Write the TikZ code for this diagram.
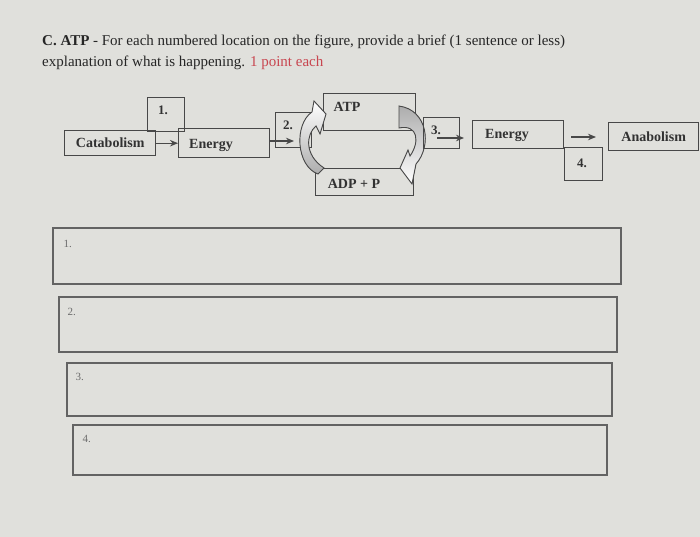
\documentclass[tikz,border=0pt]{standalone}
\usepackage{fontspec}
\setmainfont{Liberation Serif}
\usetikzlibrary{arrows.meta, positioning}
\definecolor{paper}{RGB}{224,224,220}
\definecolor{ink}{RGB}{72,72,72}
\definecolor{pointred}{RGB}{200,70,80}
\tikzset{
        >={Stealth[length=8pt,width=6.5pt]}, % small filled heads
        box/.style={draw=ink, line width=1.4pt, anchor=north west, inner sep=0pt},
        word/.style={font=\fontsize{14}{16}\selectfont\bfseries, text=ink!70!black},
        num/.style={font=\fontsize{13}{15}\selectfont\bfseries, text=ink!70!black},
        answer/.style={draw=ink!85, line width=1.5pt, anchor=north west, inner sep=0pt},
        tag/.style={font=\fontsize{11}{13}\selectfont, text=ink!80},
        ribbon/.style={draw=ink, line width=0.9pt}
        }

\begin{document}
\begin{tikzpicture}[x=1pt, y=-1pt]
        % page
        \fill[paper] (0,0) rectangle (700,537);
        \useasboundingbox (0,0) rectangle (700,537);

        % question
        \node[anchor=north west, align=left, inner sep=0pt,
              font=\fontsize{15}{21}\selectfont, text=black!85] (title) at (42,35)
              {\textbf{C. ATP} - For each numbered location on the figure, provide a brief (1 sentence or less)\\
               explanation of what is happening. \textcolor{pointred}{1 point each}};

        % chain
        \node[box, minimum width=91pt, minimum height=25pt, word] (cat) at (64,130) {Catabolism};
        \node[box, minimum width=37pt, minimum height=34pt] (b1) at (147,97) {};
        \node[num] (n1) at (163,110) {1.};
        \node[box, minimum width=91pt, minimum height=29pt] (en1) at (178,128) {};
        \node[word] (en1txt) at (211,145) {Energy};
        \node[box, minimum width=36pt, minimum height=35pt] (b2) at (275,112) {};
        \node[num] (n2) at (288,125) {2.};
        \coordinate (in2) at (294,141);

        % cycle
        \node[box, minimum width=92pt, minimum height=37pt] (atp) at (323,93) {};
        \node[word] (atptxt) at (347,107) {ATP};
        \node[box, minimum width=98pt, minimum height=27pt] (adp) at (315,168) {};
        \node[word] (adptxt) at (354,184) {ADP + P};
        \filldraw[ribbon, top color=white, bottom color=ink!45]
              (318,174) .. controls (296,166) and (294,124) .. (312,112) -- (314,101) -- (326,114)
              -- (320,134) -- (316,126) .. controls (306,134) and (304,155) .. (324,168) -- cycle;
        \filldraw[ribbon, top color=ink!45, bottom color=white]
              (399,106) .. controls (428,110) and (432,146) .. (416,164) -- (412,184) -- (400,168)
              -- (408,150) -- (410,156) .. controls (420,142) and (418,124) .. (399,128) -- cycle;

        \node[box, minimum width=36pt, minimum height=31pt] (b3) at (423,117) {};
        \node[num] (n3) at (436,130) {3.};
        \coordinate (out3) at (437,138);
        \coordinate (to3) at (464,138);
        \node[box, minimum width=91pt, minimum height=28pt] (en2) at (472,120) {};
        \node[word] (en2txt) at (507,135) {Energy};
        \node[box, minimum width=90pt, minimum height=28pt, word] (ana) at (608,122) {Anabolism};
        \node[box, minimum width=38pt, minimum height=33pt] (b4) at (564,147) {};
        \node[num] (n4) at (582,163) {4.};

        \draw[->, ink, line width=1.3pt] (cat.east) -- (en1.west);
        \draw[->, ink, line width=1.3pt] (en1.east |- in2) -- (in2);
        \draw[->, ink, line width=1.3pt] (out3) -- (to3);
        \draw[->, ink, line width=1.3pt, shorten <=7pt, shorten >=12pt] (en2.east |- 0,137) -- (ana.west |- 0,137);

        % answer boxes
        \node[answer, minimum width=568pt, minimum height=56pt] (a1) at (52,227) {};
        \node[tag, anchor=north west] (t1) at (60,237) {1.};
        \node[answer, minimum width=558pt, minimum height=55pt] (a2) at (58,296) {};
        \node[tag, anchor=north west] (t2) at (64,305) {2.};
        \node[answer, minimum width=545pt, minimum height=53pt] (a3) at (66,362) {};
        \node[tag, anchor=north west] (t3) at (72,370) {3.};
        \node[answer, minimum width=534pt, minimum height=50pt] (a4) at (72,424) {};
        \node[tag, anchor=north west] (t4) at (79,432) {4.};
      \end{tikzpicture}
\end{document}
